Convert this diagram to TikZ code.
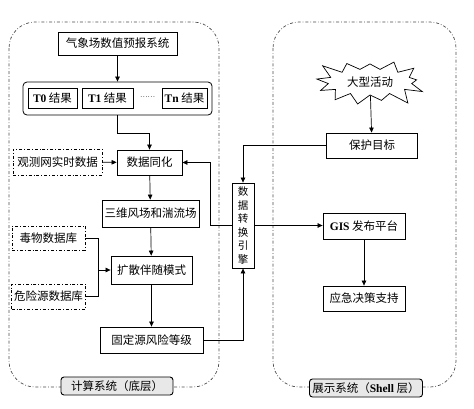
\documentclass[tikz,border=0pt]{standalone}
\usepackage{fontspec}
\setmainfont{Liberation Serif}
\newfontfamily\cjk{Noto Sans CJK SC}
\usetikzlibrary{shapes.symbols,arrows.meta}
\begin{document}
\begin{tikzpicture}[x=1pt,y=-1pt,
  every node/.style={font=\cjk\fontsize{11.5}{13}\selectfont, inner sep=0pt},
  box/.style={draw, line width=0.8pt, align=center},
  dbox/.style={draw, line width=0.8pt, dash dot, align=center},
  cont/.style={draw=black!70, line width=0.7pt, dash dot, rounded corners=26pt},
  lab/.style={draw, line width=0.9pt, rounded corners=3pt, fill=gray!18, minimum height=18pt},
  arr/.style={-{Triangle[length=5pt,width=4.5pt]}, line width=0.7pt},
  ln/.style={line width=0.7pt}]
\useasboundingbox (0,0) rectangle (474,408);
% containers
\draw[cont] (9,22) rectangle (219,387);
\draw[cont] (273,22) rectangle (456,387);
\node[lab, minimum width=112pt] (lab1) at (117,386) {计算系统（底层）};
\node[lab, minimum width=113pt] (lab2) at (366,388) {展示系统（{\rmfamily\bfseries Shell} 层）};
% left nodes
\node[box, minimum width=119pt, minimum height=23pt] (n1) at (117.5,43.5) {气象场数值预报系统};
\node[draw, line width=0.8pt, rounded corners=4pt, minimum width=189pt, minimum height=33pt] (tbox) at (117.5,98.5) {};
\node[box, minimum width=49pt, minimum height=20pt] (t0) at (52.5,98) {{\rmfamily\bfseries T0} 结果};
\node[box, minimum width=51pt, minimum height=20pt] (t1) at (107.5,98) {{\rmfamily\bfseries T1} 结果};
\node (dots) at (147.5,97) {\fontsize{7}{8}\selectfont ……};
\node[box, minimum width=45pt, minimum height=20pt] (tn) at (184.5,98) {{\rmfamily\bfseries Tn} 结果};
\node[dbox, minimum width=89pt, minimum height=26pt] (obs) at (57.5,162) {观测网实时数据};
\node[box, minimum width=65pt, minimum height=25pt] (assim) at (149.5,162.5) {数据同化};
\node[box, minimum width=97pt, minimum height=27pt] (wind) at (150.5,213.5) {三维风场和湍流场};
\node[dbox, minimum width=73pt, minimum height=24pt] (tox) at (48.5,238) {毒物数据库};
\node[box, minimum width=81pt, minimum height=28pt] (diff) at (151.5,270) {扩散伴随模式};
\node[dbox, minimum width=74pt, minimum height=25pt] (haz) at (48.5,296.5) {危险源数据库};
\node[box, minimum width=103pt, minimum height=26pt] (risk) at (151.5,340) {固定源风险等级};
% middle engine
\node[box, minimum width=22pt, minimum height=85pt, font=\cjk\fontsize{10.5}{13.5}\selectfont] (eng) at (243,225.5) {数\\据\\转\\换\\引\\擎};
% right nodes
\node[starburst, draw, line width=0.7pt, starburst points=13, starburst point height=16pt, random starburst=3, minimum width=116pt, minimum height=58pt] (star) at (370,82) {大型活动};
\node[box, minimum width=91pt, minimum height=25pt] (prot) at (372,145.5) {保护目标};
\node[box, minimum width=82pt, minimum height=26pt] (gis) at (364,226) {{\rmfamily\bfseries GIS} 发布平台};
\node[box, minimum width=82pt, minimum height=25pt] (dec) at (364,298.5) {应急决策支持};
% connectors
\draw[arr] (n1) -- (tbox);
\coordinate (c1) at (117.5,133);
\draw[arr] (tbox.south) -- (c1) -| (assim.north);
\draw[arr] (obs) -- (assim);
\draw[arr] (assim) -- (wind);
\draw[arr] (wind) -- (diff);
\coordinate (j) at (98,270);
\draw[ln] (tox.east) -| (j);
\draw[ln] (haz.east) -| (j);
\draw[arr] (j) -- (diff.west);
\draw[arr] (diff) -- (risk);
\draw[arr] (risk.east) -| (eng.south);
\draw[arr] (star) -- (prot);
\draw[arr] (prot.west) -| (eng.north);
\draw[arr] (eng.east) -- (gis.west |- eng.east);
\coordinate (k) at (210,225.5);
\draw[arr] (eng.west) -- (k) |- (assim.east);
\draw[arr] (gis) -- (dec);
\end{tikzpicture}
\end{document}
